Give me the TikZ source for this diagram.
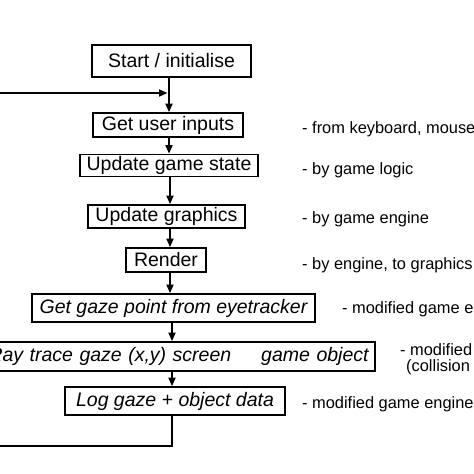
\documentclass[tikz,border=0pt]{standalone}
\usepackage{fontspec}
\setmainfont{Liberation Sans}
\usetikzlibrary{arrows.meta}
\begin{document}
\begin{tikzpicture}[x=1pt,y=-1pt,
  box/.style={draw=black, line width=1.8pt, fill=white, inner sep=0pt,
    font=\fontsize{19.5}{22}\selectfont},
  note/.style={anchor=base west, inner sep=0pt, font=\fontsize{16.4}{19}\selectfont},
  flow/.style={line width=1.8pt, -{Triangle[length=8.5pt,width=7pt]}},
  plain/.style={line width=1.8pt}]
\useasboundingbox (0,0) rectangle (474,474);
\fill[white] (0,0) rectangle (474,474);
\clip (0,0) rectangle (474,474);

\node[box, minimum width=159pt, minimum height=32pt] (start) at (171.5,61) {Start / initialise};
\node[box, minimum width=150pt, minimum height=24pt] (input) at (168,125) {Get user inputs};
\node[box, minimum width=178pt, minimum height=22pt] (state) at (169,165.5) {Update game state};
\node[box, minimum width=157pt, minimum height=23pt] (gfx) at (166.5,216.5) {Update graphics};
\node[box, minimum width=80pt, minimum height=24pt] (render) at (166,260) {Render};
\node[box, minimum width=283pt, minimum height=28pt] (gaze) at (173.5,308) {\itshape Get gaze point from eyetracker};
\node[box, anchor=east, minimum height=29pt, text width=394pt, inner xsep=6.5pt, align=right] (ray) at (376,356.5) {\itshape Ray trace gaze (x,y) screen\hspace{30pt}game object};
\node[box, minimum width=220pt, minimum height=28pt] (log) at (175,401) {\itshape Log gaze + object data};

\coordinate (loopA) at (-5,446);
\coordinate (loopB) at (-5,93);

\draw[flow] (start.south -| 169,0) -- (input.north -| 169,0);
\draw[flow] (input.south -| 169,0) -- (state.north -| 169,0);
\draw[flow] (state.south -| 170,0) -- (gfx.north -| 170,0);
\draw[flow] (gfx.south -| 170,0) -- (render.north -| 170,0);
\draw[flow] (render.south -| 170,0) -- (gaze.north -| 170,0);
\draw[flow] (gaze.south -| 172,0) -- (ray.north -| 172,0);
\draw[flow] (ray.south -| 172,0) -- (log.north -| 172,0);
\draw[plain] (log.south -| 172,0) |- (loopA);
\draw[flow, shorten >=1.5pt] (loopB) -- (loopB -| 169,0);

\node[note] (n1) at (302,133) {- from keyboard, mouse};
\node[note] (n2) at (302,174) {- by game logic};
\node[note] (n3) at (302,223) {- by game engine};
\node[note] (n4) at (302,269) {- by engine, to graphics};
\node[note] (n5) at (342,313) {- modified game engine};
\node[note] (n6) at (400,355) {- modified game engine};
\node[note] (n7) at (406,371) {(collision detection)};
\node[note] (n8) at (302,408) {- modified game engine};
\end{tikzpicture}
\end{document}
